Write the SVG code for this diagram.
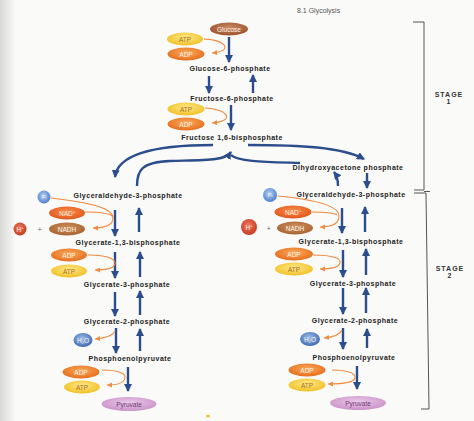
<svg xmlns="http://www.w3.org/2000/svg" width="474" height="421" viewBox="0 0 474 421">
<defs>
<marker id="bh" markerUnits="userSpaceOnUse" markerWidth="9" markerHeight="8" refX="7" refY="4" orient="auto"><path d="M0,0 L8,4 L0,8 z" fill="#2c4d8c"/></marker>
<marker id="oh" markerUnits="userSpaceOnUse" markerWidth="6" markerHeight="6" refX="5" refY="2.5" orient="auto"><path d="M0,0 L5,2.5 L0,5 z" fill="#f08a40"/></marker>
<radialGradient id="gATP" cx="50%" cy="40%" r="60%"><stop offset="0" stop-color="#ffe98a"/><stop offset="1" stop-color="#f0c024"/></radialGradient>
<radialGradient id="gADP" cx="50%" cy="40%" r="60%"><stop offset="0" stop-color="#fbab5c"/><stop offset="1" stop-color="#e56d1c"/></radialGradient>
<radialGradient id="gGlc" cx="50%" cy="40%" r="60%"><stop offset="0" stop-color="#c98a62"/><stop offset="1" stop-color="#9e5230"/></radialGradient>
<radialGradient id="gNAD" cx="50%" cy="40%" r="60%"><stop offset="0" stop-color="#fb8d4c"/><stop offset="1" stop-color="#e0561a"/></radialGradient>
<radialGradient id="gNADH" cx="50%" cy="40%" r="60%"><stop offset="0" stop-color="#cf9260"/><stop offset="1" stop-color="#a76230"/></radialGradient>
<radialGradient id="gH" cx="45%" cy="40%" r="60%"><stop offset="0" stop-color="#f07a60"/><stop offset="1" stop-color="#c53a22"/></radialGradient>
<radialGradient id="gPi" cx="45%" cy="40%" r="60%"><stop offset="0" stop-color="#b4d0f4"/><stop offset="1" stop-color="#4f7fcc"/></radialGradient>
<radialGradient id="gH2O" cx="45%" cy="40%" r="60%"><stop offset="0" stop-color="#a2bfe8"/><stop offset="1" stop-color="#3e6db5"/></radialGradient>
<radialGradient id="gPyr" cx="50%" cy="40%" r="60%"><stop offset="0" stop-color="#ecc8ea"/><stop offset="1" stop-color="#c993c8"/></radialGradient>
<linearGradient id="edge" x1="0" x2="1" y1="0" y2="0"><stop offset="0" stop-color="#d9d9d7"/><stop offset="1" stop-color="#fafaf8"/></linearGradient>
<style>
.lbl{font-family:"Liberation Sans",Arial,sans-serif;font-weight:bold;font-size:7px;letter-spacing:0.5px;fill:#222;text-anchor:middle;dominant-baseline:central}
.el{font-family:"Liberation Sans",Arial,sans-serif;font-size:6.5px;fill:#fff6ea;text-anchor:middle;dominant-baseline:central}
.atp{fill:#a86a1c}
.pyr{fill:#6e3a6e}
.blue{fill:none;stroke:#2c4d8c;stroke-width:2.4;marker-end:url(#bh)}
.org{fill:none;stroke:#f08a40;stroke-width:1.1;marker-end:url(#oh)}
.orgn{fill:none;stroke:#f08a40;stroke-width:1.1}
.brk{fill:none;stroke:#555;stroke-width:1}
.stg{font-family:"Liberation Sans",Arial,sans-serif;font-weight:bold;font-size:7px;letter-spacing:1px;fill:#333;text-anchor:middle}
.hdr{font-family:"Liberation Sans",Arial,sans-serif;font-size:7px;fill:#555}
</style>
</defs>
<rect width="474" height="421" fill="#fafaf8"/>
<rect width="16" height="421" fill="url(#edge)"/>
<text class="hdr" x="297" y="13">8.1  Glycolysis</text>

<g id="connectors">
<path class="blue" d="M229,37 V62"/>
<path class="blue" d="M209,76 V93"/>
<path class="blue" d="M253,93 V75"/>
<path class="blue" d="M231,105 V130"/>
<path class="org" d="M204,39 C226,40 234,51 212,53"/>
<path class="org" d="M205,108 C228,109 236,121 212,123"/>
<path class="blue" d="M213,145 C168,145 118,150 115,177"/>
<path class="blue" d="M248,145 C300,145 342,147 364,159"/>
<path class="blue" d="M137,186 C137,170 142,162 170,161 C205,160 225,161 231,152"/>
<path fill="none" stroke="#2c4d8c" stroke-width="2.4" d="M300,163 C270,162 238,162 231,155"/>
<path class="blue" d="M338,186 C338,181 337,176 334,172"/>
<path class="blue" d="M367,173 V188"/>
<path class="blue" d="M115,210 V236"/>
<path class="blue" d="M139,232 V208"/>
<path class="org" d="M51,198 C95,203 113,209 113,218 C113,226 104,228 93,228"/>
<path class="orgn" d="M85,212 C100,212 109,213 112,216"/>
<path class="blue" d="M115,252 V278"/>
<path class="blue" d="M140,277 V252"/>
<path class="org" d="M88,255 C110,255 116,260 115,264 C114,268 106,270 95,270"/>
<path class="blue" d="M115,292 V316"/>
<path class="blue" d="M140,315 V291"/>
<path class="blue" d="M116,328 V353"/>
<path class="blue" d="M140,351 V329"/>
<path class="org" d="M115,331 C113,336 105,338 95,339"/>
<path class="blue" d="M128,367 V391"/>
<path class="org" d="M102,370 C120,370 126,374 125,378 C124,383 116,385 107,385"/>
<path class="blue" d="M342,208 V233"/>
<path class="blue" d="M365,232 V207"/>
<path class="org" d="M278,196 C320,200 339,207 339,216 C339,224 332,227 320,227"/>
<path class="orgn" d="M312,212 C326,212 334,213 337,215"/>
<path class="blue" d="M343,250 V277"/>
<path class="blue" d="M366,275 V249"/>
<path class="org" d="M313,255 C335,255 341,259 340,263 C339,267 331,269 320,269"/>
<path class="blue" d="M343,288 V314"/>
<path class="blue" d="M366,313 V288"/>
<path class="blue" d="M343,328 V349"/>
<path class="blue" d="M367,348 V329"/>
<path class="org" d="M342,330 C340,335 333,337 324,338"/>
<path class="blue" d="M357,366 V389"/>
<path class="org" d="M332,370 C350,370 356,374 355,378 C354,382 345,384 328,384"/>
</g>

<g id="glucose"><ellipse cx="229" cy="29" rx="19" ry="6.5" fill="url(#gGlc)"/><text class="el" x="229" y="29">Glucose</text></g>
<g id="atp1"><ellipse cx="185" cy="39" rx="18" ry="6.5" fill="url(#gATP)"/><text class="el atp" x="185" y="39">ATP</text></g>
<g id="adp1"><ellipse cx="186" cy="54" rx="18.5" ry="6.5" fill="url(#gADP)"/><text class="el" x="186" y="54">ADP</text></g>
<g id="g6p"><text class="lbl" x="230" y="68">Glucose-6-phosphate</text></g>
<g id="f6p"><text class="lbl" x="232" y="98">Fructose-6-phosphate</text></g>
<g id="atp2"><ellipse cx="186" cy="109" rx="18.5" ry="6.5" fill="url(#gATP)"/><text class="el atp" x="186" y="109">ATP</text></g>
<g id="adp2"><ellipse cx="186" cy="124" rx="18.5" ry="6.5" fill="url(#gADP)"/><text class="el" x="186" y="124">ADP</text></g>
<g id="f16bp"><text class="lbl" x="232" y="137">Fructose 1,6-bisphosphate</text></g>
<g id="dhap"><text class="lbl" x="348" y="167">Dihydroxyacetone phosphate</text></g>

<g id="g3p-left"><text class="lbl" x="128" y="195">Glyceraldehyde-3-phosphate</text></g>
<g id="pi-left"><circle cx="44" cy="197" r="6.5" fill="url(#gPi)"/><text class="el" x="44" y="197" style="font-size:5.5px">P<tspan font-size="3.5" dy="1">i</tspan></text></g>
<g id="nad-left"><ellipse cx="67" cy="213" rx="18" ry="6.5" fill="url(#gNAD)"/><text class="el" x="67" y="213">NAD<tspan font-size="4" dy="-2">+</tspan></text></g>
<g id="h-left"><circle cx="20" cy="229" r="6.5" fill="url(#gH)"/><text class="el" x="20" y="229">H<tspan font-size="4" dy="-2">+</tspan></text></g>
<g id="plus-left"><text class="lbl" x="40" y="229" style="font-weight:normal;fill:#666">+</text></g>
<g id="nadh-left"><ellipse cx="67" cy="229" rx="18" ry="6.5" fill="url(#gNADH)"/><text class="el" x="67" y="229">NADH</text></g>
<g id="g13bp-left"><text class="lbl" x="128" y="242">Glycerate-1,3-bisphosphate</text></g>
<g id="adp3"><ellipse cx="69" cy="255" rx="18" ry="6.5" fill="url(#gADP)"/><text class="el" x="69" y="255">ADP</text></g>
<g id="atp3"><ellipse cx="69" cy="271" rx="18" ry="6.5" fill="url(#gATP)"/><text class="el atp" x="69" y="271">ATP</text></g>
<g id="g3pate-left"><text class="lbl" x="127" y="284">Glycerate-3-phosphate</text></g>
<g id="g2p-left"><text class="lbl" x="127" y="321">Glycerate-2-phosphate</text></g>
<g id="h2o-left"><ellipse cx="83" cy="340" rx="9.5" ry="7" fill="url(#gH2O)"/><text class="el" x="83" y="340">H<tspan font-size="4" dy="1.5">2</tspan><tspan dy="-1.5">O</tspan></text></g>
<g id="pep-left"><text class="lbl" x="130" y="358">Phosphoenolpyruvate</text></g>
<g id="adp4"><ellipse cx="81" cy="372" rx="18.5" ry="6.5" fill="url(#gADP)"/><text class="el" x="81" y="372">ADP</text></g>
<g id="atp4"><ellipse cx="82" cy="387" rx="18" ry="6.5" fill="url(#gATP)"/><text class="el atp" x="82" y="387">ATP</text></g>
<g id="pyr-left"><ellipse cx="129" cy="404" rx="27.5" ry="7" fill="url(#gPyr)"/><text class="el pyr" x="129" y="404">Pyruvate</text></g>

<g id="g3p-right"><text class="lbl" x="351" y="194">Glyceraldehyde-3-phosphate</text></g>
<g id="pi-right"><circle cx="270" cy="195" r="7" fill="url(#gPi)"/><text class="el" x="270" y="195" style="font-size:5.5px">P<tspan font-size="3.5" dy="1">i</tspan></text></g>
<g id="nad-right"><ellipse cx="293" cy="212" rx="18.5" ry="6.5" fill="url(#gNAD)"/><text class="el" x="293" y="212">NAD<tspan font-size="4" dy="-2">+</tspan></text></g>
<g id="h-right"><circle cx="249" cy="227" r="8" fill="url(#gH)"/><text class="el" x="249" y="227">H<tspan font-size="4" dy="-2">+</tspan></text></g>
<g id="plus-right"><text class="lbl" x="269" y="228" style="font-weight:normal;fill:#666">+</text></g>
<g id="nadh-right"><ellipse cx="295" cy="228" rx="18" ry="6.5" fill="url(#gNADH)"/><text class="el" x="295" y="228">NADH</text></g>
<g id="g13bp-right"><text class="lbl" x="351" y="241">Glycerate-1,3-bisphosphate</text></g>
<g id="adp5"><ellipse cx="294" cy="254" rx="19" ry="6.5" fill="url(#gADP)"/><text class="el" x="294" y="254">ADP</text></g>
<g id="atp5"><ellipse cx="294" cy="269" rx="19" ry="6.5" fill="url(#gATP)"/><text class="el atp" x="294" y="269">ATP</text></g>
<g id="g3pate-right"><text class="lbl" x="353" y="283">Glycerate-3-phosphate</text></g>
<g id="g2p-right"><text class="lbl" x="355" y="320">Glycerate-2-phosphate</text></g>
<g id="h2o-right"><ellipse cx="310" cy="339" rx="10" ry="7" fill="url(#gH2O)"/><text class="el" x="310" y="339">H<tspan font-size="4" dy="1.5">2</tspan><tspan dy="-1.5">O</tspan></text></g>
<g id="pep-right"><text class="lbl" x="354" y="357">Phosphoenolpyruvate</text></g>
<g id="adp6"><ellipse cx="307" cy="370" rx="18.5" ry="6.5" fill="url(#gADP)"/><text class="el" x="307" y="370">ADP</text></g>
<g id="atp6"><ellipse cx="307" cy="385" rx="18.5" ry="6.5" fill="url(#gATP)"/><text class="el atp" x="307" y="385">ATP</text></g>
<g id="pyr-right"><ellipse cx="358" cy="403" rx="28" ry="7" fill="url(#gPyr)"/><text class="el pyr" x="358" y="403">Pyruvate</text></g>

<g id="stage1">
<path class="brk" d="M413,22 H424 V190 H414"/>
<text class="stg" x="449" y="97">STAGE</text><text class="stg" x="449" y="104">1</text>
</g>
<g id="stage2">
<path class="brk" d="M414,193 H426 L429,409 H421"/>
<path class="brk" d="M424,191.5 H430"/>
<text class="stg" x="450" y="271">STAGE</text><text class="stg" x="450" y="278">2</text>
</g>
<ellipse cx="208" cy="416" rx="2" ry="1.5" fill="#f0c040"/>
</svg>
